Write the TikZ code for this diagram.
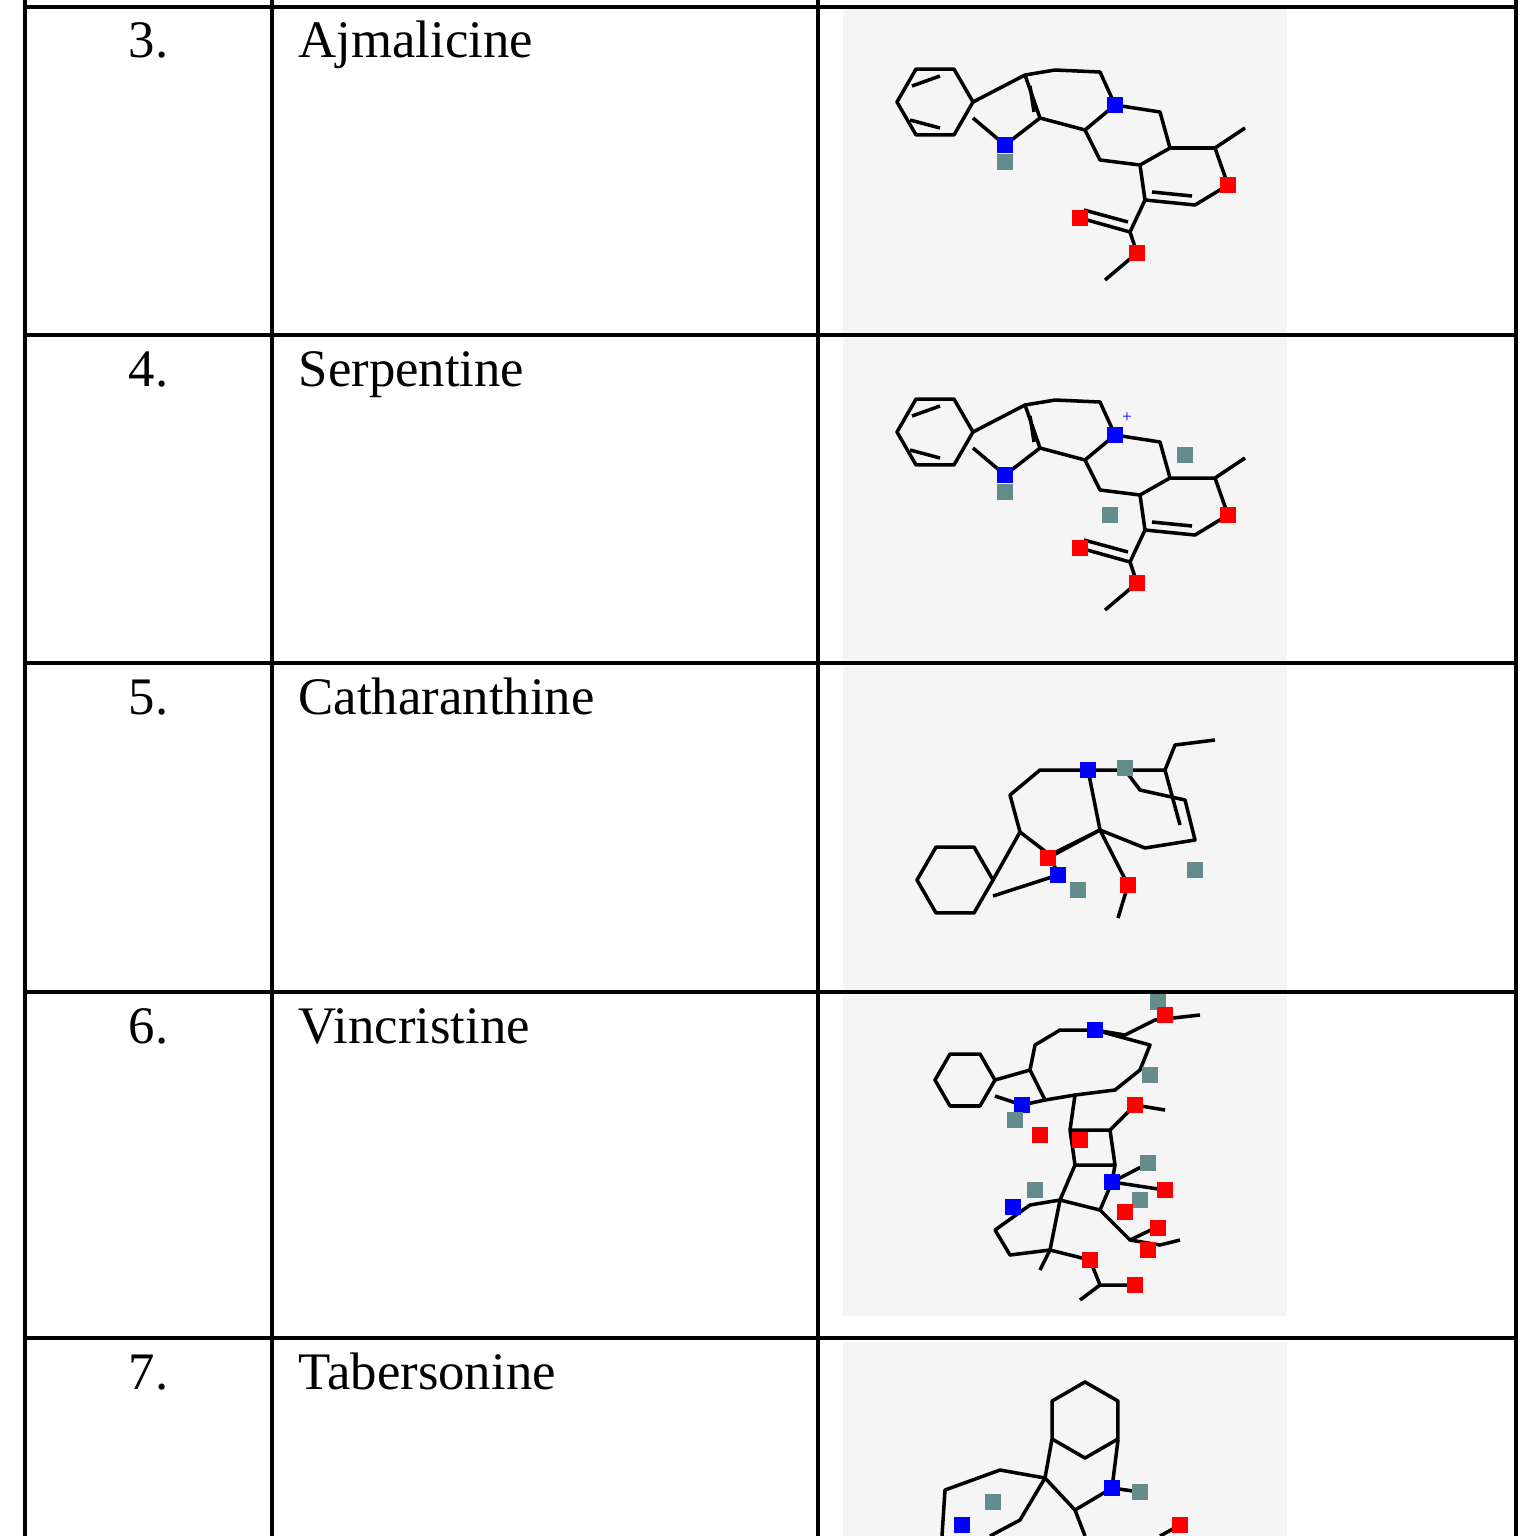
\documentclass[tikz,border=0pt]{standalone}
\usepackage{fontspec}
\setmainfont{Liberation Serif}
\usetikzlibrary{positioning}
\definecolor{panel}{RGB}{245,245,245}
\definecolor{atN}{RGB}{0,0,255}
\definecolor{atO}{RGB}{255,0,0}
\definecolor{atH}{RGB}{100,140,140}
\newcommand{\atm}[2]{\fill[#2] (#1) +(-8,-8) rectangle +(8,8);}
\begin{document}
\begin{tikzpicture}[x=0.01cm,y=-0.01cm,
          rule/.style  = {line width=0.9pt},
          bond/.style  = {line width=1pt, line join=round},
          cell/.style  = {anchor=base west, inner sep=0pt, font=\fontsize{15}{18}\selectfont}]
  \useasboundingbox (0,0) rectangle (1536,1536);
  % grey panels of the structure pictures
  \foreach \top/\bot in {8/332, 338/660, 666/990, 995/1316, 1342/1536}
    \fill[panel] (843,\top) rectangle (1287,\bot);
  % table rules
  \foreach \y in {7,335,663,992,1338}
    \draw[rule] (25,\y) -- (1516,\y);
  \foreach \x in {25,272,818,1516}
    \draw[rule] (\x,0) -- (\x,1536);
  % row texts
  \foreach \y/\n/\name in {57/3./Ajmalicine, 386/4./Serpentine, 714/5./Catharanthine,
                            1043/6./Vincristine, 1389/7./Tabersonine}
  {
    \node[cell] (num\n) at (128,\y) {\n};
    \node[cell] (name\n) at (298,\y) {\name};
  }
  % ajmalicine and serpentine skeleton
  \foreach \dy in {0,330}
  {
  \begin{scope}[yshift=-\dy*0.01cm]
    \draw[bond] (935,102) ++(0:38) -- ++(120:38) -- ++(180:38) -- ++(240:38) -- ++(300:38) -- ++(0:38) -- cycle;
    \draw[bond] (912,86) -- (940,76) (910,120) -- (940,128);
    \draw[bond] (973,102) -- (1025,75) -- (1040,118) -- (1005,145) -- (973,118);
    \draw[bond] (1030,86) -- (1034,112);
    \draw[bond] (1025,75) -- (1055,70) -- (1100,72) -- (1115,105) -- (1085,130) -- (1040,118);
    \draw[bond] (1115,105) -- (1160,112) -- (1170,148) -- (1140,165) -- (1100,160) -- (1085,130);
    \draw[bond] (1170,148) -- (1215,148) -- (1228,185) -- (1195,205) -- (1145,200) -- (1140,165);
    \draw[bond] (1192,196) -- (1152,192);
    \draw[bond] (1215,148) -- (1245,128);
    \draw[bond] (1145,200) -- (1130,232) -- (1080,218);
    \draw[bond] (1128,222) -- (1084,210);
    \draw[bond] (1130,232) -- (1137,253) -- (1105,280);
    \atm{1005,145}{atN} \atm{1115,105}{atN}
    \atm{1005,162}{atH}
    \atm{1228,185}{atO} \atm{1080,218}{atO} \atm{1137,253}{atO}
  \end{scope}
  }
  \atm{1185,455}{atH} \atm{1110,515}{atH}
  \node[text=atN, inner sep=0pt] (plus) at (1127,418) {\tiny +};
  % catharanthine
  \draw[bond] (955,880) ++(0:38) -- ++(120:38) -- ++(180:38) -- ++(240:38) -- ++(300:38) -- ++(0:38) -- cycle;
  \draw[bond] (993,880) -- (1020,832) -- (1050,855) -- (1058,875) -- (993,896);
  \draw[bond] (1020,832) -- (1010,795) -- (1040,770) -- (1088,770) -- (1100,830) -- (1050,855);
  \draw[bond] (1088,770) -- (1125,770) -- (1165,770) -- (1175,745) -- (1215,740);
  \draw[bond] (1125,770) -- (1140,790) -- (1185,800) -- (1195,840) -- (1145,848) -- (1100,830);
  \draw[bond] (1165,770) -- (1180,825) (1100,830) -- (1128,885) -- (1118,918);
  \draw[bond] (1100,830) -- (1048,858);
  \atm{1058,875}{atN} \atm{1088,770}{atN} \atm{1078,890}{atH} \atm{1125,768}{atH}
  \atm{1048,858}{atO} \atm{1128,885}{atO} \atm{1195,870}{atH}
  % vincristine
  \draw[bond] (965,1080) ++(0:30) -- ++(120:30) -- ++(180:30) -- ++(240:30) -- ++(300:30) -- ++(0:30) -- cycle;
  \draw[bond] (995,1080) -- (1030,1070) -- (1045,1100) -- (1022,1105) -- (995,1096);
  \draw[bond] (1030,1070) -- (1035,1045) -- (1060,1030) -- (1095,1030) -- (1125,1035) -- (1155,1020) -- (1200,1015);
  \draw[bond] (1095,1030) -- (1150,1045) -- (1140,1070) -- (1115,1090) -- (1075,1095) -- (1045,1100);
  \draw[bond] (1075,1095) -- (1070,1130) -- (1110,1130) -- (1115,1165) -- (1075,1165) -- (1070,1130);
  \draw[bond] (1110,1130) -- (1135,1105) -- (1165,1110);
  \draw[bond] (1075,1165) -- (1060,1200) -- (1030,1205) -- (995,1230) -- (1010,1255) -- (1050,1250) -- (1060,1200);
  \draw[bond] (1115,1165) -- (1112,1182) -- (1100,1210) -- (1130,1240) -- (1160,1245) -- (1180,1240);
  \draw[bond] (1050,1250) -- (1090,1260) -- (1100,1285) -- (1080,1300) (1100,1285) -- (1135,1285);
  \draw[bond] (1112,1182) -- (1145,1165) (1112,1182) -- (1165,1190) (1130,1240) -- (1155,1228);
  \draw[bond] (1050,1250) -- (1040,1270) (1060,1200) -- (1100,1210);
  \atm{1022,1105}{atN} \atm{1095,1030}{atN} \atm{1112,1182}{atN} \atm{1013,1207}{atN}
  \atm{1158,1002}{atH} \atm{1150,1075}{atH} \atm{1015,1120}{atH} \atm{1148,1163}{atH}
  \atm{1140,1200}{atH} \atm{1035,1190}{atH}
  \atm{1165,1015}{atO} \atm{1135,1105}{atO} \atm{1040,1135}{atO} \atm{1080,1140}{atO}
  \atm{1165,1190}{atO} \atm{1125,1212}{atO} \atm{1158,1228}{atO} \atm{1148,1250}{atO}
  \atm{1090,1260}{atO} \atm{1135,1285}{atO}
  % tabersonine (upper part)
  \draw[bond] (1085,1420) ++(330:38) -- ++(90:38) -- ++(150:38) -- ++(210:38) -- ++(270:38) -- ++(330:38) -- cycle;
  \draw[bond] (1118,1440) -- (1112,1488) -- (1075,1510) -- (1045,1478) -- (1052,1439);
  \draw[bond] (1045,1478) -- (1000,1470) -- (945,1490) -- (942,1536);
  \draw[bond] (1045,1478) -- (1020,1520) -- (990,1536) (1075,1510) -- (1085,1536);
  \draw[bond] (1112,1488) -- (1140,1492) (1180,1525) -- (1160,1536);
  \atm{1112,1488}{atN} \atm{1140,1492}{atH} \atm{993,1502}{atH}
  \atm{962,1525}{atN} \atm{1180,1525}{atO}
\end{tikzpicture}
\end{document}
